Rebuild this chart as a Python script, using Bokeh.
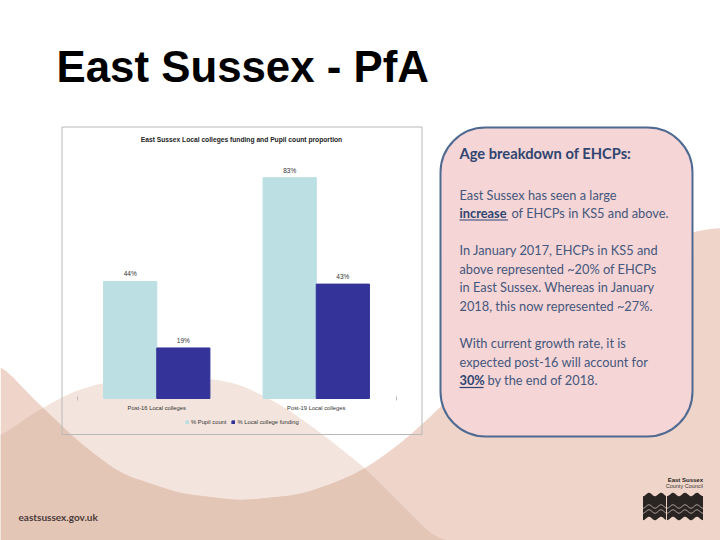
import numpy as np
from bokeh.core.properties import value
from bokeh.embed import file_html
from bokeh.models import FixedTicker, Legend, LegendItem, LinearAxis, Range1d
from bokeh.plotting import figure
from bokeh.resources import INLINE

# chart values
categories = ["Post-16 Local colleges", "Post-19 Local colleges"]
series_names = ["% Pupil count", "% Local college funding"]
pupil_count = [44, 83]
college_funding = [19, 43]
pupil_labels = ["44%", "83%"]
funding_labels = ["19%", "43%"]
chart_title = "East Sussex Local colleges funding and Pupil count proportion"

# slide text, y is the middle of the line
slide_title = "East Sussex - PfA"
box_heading = "Age breakdown of EHCPs:"
box_lines = [
    ("East Sussex has seen a large", 459, 194),
    ("of EHCPs in KS5 and above.", 511, 212),
    ("In January 2017, EHCPs in KS5 and", 459, 249.5),
    ("above represented ~20% of EHCPs", 459, 268),
    ("in East Sussex. Whereas in January", 459, 286.5),
    ("2018, this now represented ~27%.", 459, 305.5),
    ("With current growth rate, it is", 459, 342.5),
    ("expected post-16 will account for", 459, 361),
    ("by the end of 2018.", 487, 379.5),
]
box_bold = [("increase", 459, 212, 507.5), ("30%", 459, 379.5, 483)]

# background curves, in slide pixels
hill = [(0, 437), (20, 421), (43, 407), (70, 392), (103, 382), (140, 378), (175, 377), (210, 378),
        (240, 384), (280, 404), (320, 432), (365, 468), (437, 540)]
bowl = [(0, 363), (20, 385), (42, 407), (80, 443), (120, 473), (180, 493), (240, 500), (300, 494),
        (340, 480), (365, 468), (400, 443), (440, 407), (500, 340), (560, 290), (620, 255),
        (693, 231), (720, 227)]


def curve(knots, xs):
    y = np.interp(xs, [k[0] for k in knots], [k[1] for k in knots], right=540)
    kernel = np.ones(15) / 15
    smooth = np.convolve(np.pad(y, 7, mode="edge"), kernel, mode="valid")
    return smooth


xs = np.arange(0, 721, 2.0)
hill_y = curve(hill, xs)
bowl_y = curve(bowl, xs)
both_y = np.maximum(hill_y, bowl_y)

p = figure(width=720, height=540, output_backend="svg", toolbar_location=None, min_border=0,
           x_range=Range1d(0, 720), y_range=Range1d(540, 0),
           x_axis_location=None, y_axis_location=None)
p.grid.visible = False
p.outline_line_color = None
p.background_fill_color = "white"
p.border_fill_color = "white"


def band(top, color):
    p.patch(np.r_[xs, 720, 0], np.r_[top, 540, 540], fill_color=color, line_color=None)


band(hill_y, "#f3e4dd")
band(bowl_y, "#efd5c9")
band(both_y, "#e4c6b7")

# the chart lives on its own ranges: baseline at y=398, one category is 159.5px wide
unit_x, centre_x = 159.5, 156.25
unit_y, base_y = 2.66, 398
p.extra_x_ranges["chart"] = Range1d((0 - centre_x) / unit_x, (720 - centre_x) / unit_x)
p.extra_y_ranges["chart"] = Range1d((base_y - 540) / unit_y, (base_y - 0) / unit_y)

p.quad(left=[61.5], right=[421.5], top=[126.5], bottom=[434], fill_color=None, line_color="#b8b8b8", line_width=1)

idx = list(range(len(categories)))
bar1 = p.vbar(x=[i - 1 / 6 for i in idx], top=pupil_count, width=1 / 3, bottom=0, color="#bbdfe3",
              x_range_name="chart", y_range_name="chart")
bar2 = p.vbar(x=[i + 1 / 6 for i in idx], top=college_funding, width=1 / 3, bottom=0, color="#333399",
              x_range_name="chart", y_range_name="chart")

sans = value("Liberation Sans")
for off, vals, labs in [(-1 / 6, pupil_count, pupil_labels), (1 / 6, college_funding, funding_labels)]:
    p.text(x=[i + off for i in idx], y=vals, text=labs, x_range_name="chart", y_range_name="chart",
           text_align="center", text_baseline="bottom", y_offset=-4, text_font=sans,
           text_font_size="6.5px", text_color="#333333")

axis = LinearAxis(x_range_name="chart", fixed_location=398,
                  ticker=FixedTicker(ticks=idx, minor_ticks=[-0.5, 1.5]),
                  major_label_overrides=dict(zip(idx, categories)))
axis.axis_line_color = None
axis.major_tick_line_color = None
axis.minor_tick_line_color = "#bbbbbb"
axis.minor_tick_in = 2
axis.minor_tick_out = 2
axis.major_label_standoff = 0
axis.major_label_text_font = "Liberation Sans"
axis.major_label_text_font_size = "5.8px"
axis.major_label_text_color = "#333333"
p.add_layout(axis, "below")

legend = Legend(items=[LegendItem(label=series_names[0], renderers=[bar1]),
                       LegendItem(label=series_names[1], renderers=[bar2])],
                orientation="horizontal", location=(185, 114), background_fill_alpha=0,
                border_line_color=None, glyph_width=4, glyph_height=4, spacing=5, padding=0, margin=0,
                label_standoff=2, label_text_font="Liberation Sans", label_text_font_size="5.8px",
                label_text_color="#333333", label_height=8)
p.add_layout(legend, "center")

p.text(x=[241], y=[139], text=[chart_title], text_align="center", text_baseline="middle",
       text_font=sans, text_font_style="bold", text_font_size="6.7px", text_color="#222222")

# slide title
p.text(x=[56], y=[66], text=[slide_title], text_baseline="middle", text_font=sans,
       text_font_style="bold", text_font_size="43.8px", text_color="#000000")

# pink text box
lato = value("Lato")
p.quad(left=[440], right=[692], top=[127], bottom=[436], fill_color="#f5d5d6", line_color="#4f6a92",
       line_width=2, border_radius=45)
p.text(x=[459], y=[152.5], text=[box_heading], text_baseline="middle", text_font=lato, text_font_style="bold",
       text_font_size="14.7px", text_color="#2f4570")
p.text(x=[l[1] for l in box_lines], y=[l[2] for l in box_lines], text=[l[0] for l in box_lines],
       text_baseline="middle", text_font=lato, text_font_size="12.8px", text_color="#44577c")
p.text(x=[b[1] for b in box_bold], y=[b[2] for b in box_bold], text=[b[0] for b in box_bold],
       text_baseline="middle", text_font=lato, text_font_style="bold", text_font_size="12.8px",
       text_color="#2f4570")
p.segment(x0=[b[1] for b in box_bold], x1=[b[3] for b in box_bold], y0=[b[2] + 7.5 for b in box_bold],
          y1=[b[2] + 7.5 for b in box_bold], line_color="#2f4570", line_width=1.2)

# footer
p.text(x=[18], y=[516], text=["eastsussex.gov.uk"], text_baseline="middle", text_font=lato,
       text_font_style="bold", text_font_size="10px", text_color="#4a3a38")
p.text(x=[702.5], y=[479.5], text=["East Sussex"], text_align="right", text_baseline="middle",
       text_font=sans, text_font_style="bold", text_font_size="6px", text_color="#2b2523")
p.text(x=[702.5], y=[485.8], text=["County Council"], text_align="right", text_baseline="middle",
       text_font=sans, text_font_size="5.5px", text_color="#3d3533")

# logo waves
for x0, x1 in [(642.5, 665.5), (666.5, 702.5)]:
    wx = np.linspace(x0, x1, 60)
    wave = np.cos((wx - x0) * 2 * np.pi / 12)
    p.patch(np.r_[wx, wx[::-1]], np.r_[494 + 1.7 * wave, (518 + 1.7 * wave)[::-1]], fill_color="#2a2523", line_color=None)
    p.line(wx, 506 + 1.7 * wave, line_color="#d8cdc8", line_width=0.8)
    p.line(wx, 511 + 1.7 * wave, line_color="#d8cdc8", line_width=0.8)

open("out.html", "w").write(file_html(p, INLINE))
